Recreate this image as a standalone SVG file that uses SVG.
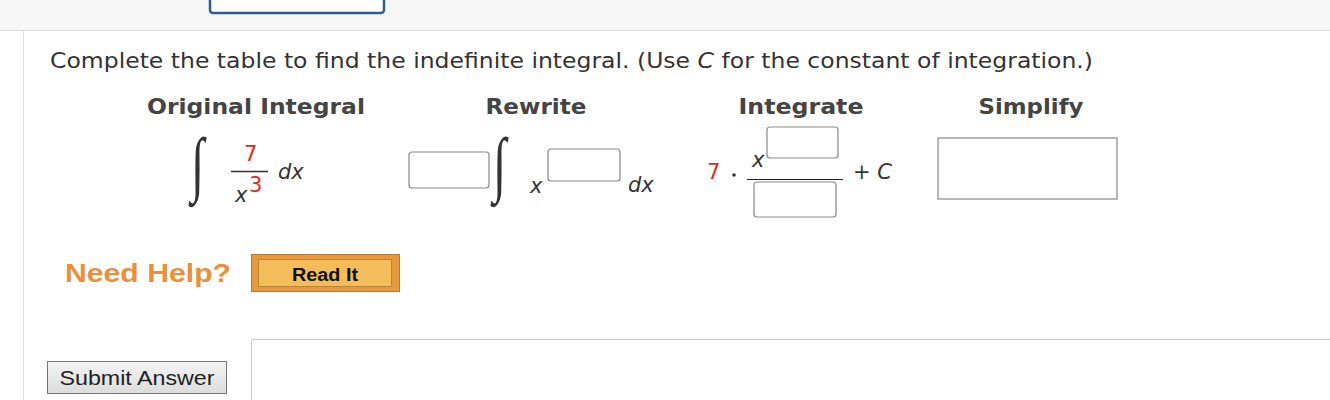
<svg xmlns="http://www.w3.org/2000/svg" width="1330" height="400" viewBox="0 0 1330 400">
<style>
.t{font-family:"DejaVu Sans",Verdana,sans-serif;fill:#333}
.h{font-family:"DejaVu Sans",Verdana,sans-serif;font-weight:bold;fill:#444;font-size:22px;text-anchor:middle}
.m{font-family:"DejaVu Sans",Verdana,sans-serif;fill:#333;font-size:21px}
.i{font-style:italic}
.r{fill:#e8261c}
.box{fill:#fff;stroke:#888;stroke-width:1.2}
.int{font-family:"Liberation Serif",serif;font-style:italic;font-size:60px;fill:#333}
</style>
<defs>
<linearGradient id="g" x1="0" y1="0" x2="0" y2="1"><stop offset="0" stop-color="#f4f4f4"/><stop offset="1" stop-color="#dcdcdc"/></linearGradient>
</defs>
<rect x="0" y="0" width="1330" height="30" fill="#f6f6f6"/>
<line x1="0" y1="30.5" x2="1330" y2="30.5" stroke="#ddd"/>
<rect x="210" y="-6" width="174" height="19" rx="3" fill="#fff" stroke="#2d5c8f" stroke-width="2.5"/>
<line x1="23.5" y1="31" x2="23.5" y2="400" stroke="#ddd"/>
<text class="t" x="50" y="68" font-size="22" textLength="1043" lengthAdjust="spacingAndGlyphs">Complete the table to find the indefinite integral. (Use <tspan class="i">C</tspan> for the constant of integration.)</text>
<text class="h" x="256" y="114" textLength="218" lengthAdjust="spacingAndGlyphs">Original Integral</text>
<text class="h" x="536" y="114" textLength="101" lengthAdjust="spacingAndGlyphs">Rewrite</text>
<text class="h" x="801" y="114" textLength="125" lengthAdjust="spacingAndGlyphs">Integrate</text>
<text class="h" x="1031" y="114" textLength="105" lengthAdjust="spacingAndGlyphs">Simplify</text>
<g id="original">
<text class="int" transform="translate(191,188) scale(0.8,1.2)">∫</text>
<text class="m r" x="244" y="161">7</text>
<line x1="231" y1="171.5" x2="268" y2="171.5" stroke="#333" stroke-width="1.5"/>
<text class="m i" x="235" y="202">x</text>
<text class="m r" x="249" y="192" font-size="19">3</text>
<text class="m i" x="278" y="179">dx</text>
</g>
<g id="rewrite">
<rect class="box" x="409" y="152" width="80" height="36" rx="3"/>
<text class="int" transform="translate(493,188) scale(0.8,1.2)">∫</text>
<text class="m i" x="530" y="193">x</text>
<rect class="box" x="548" y="149" width="72" height="32" rx="3"/>
<text class="m i" x="628" y="192">dx</text>
</g>
<g id="integrate">
<text class="m r" x="707" y="179">7</text>
<circle cx="734" cy="175" r="1.8" fill="#333"/>
<text class="m i" x="752" y="167">x</text>
<rect class="box" x="767" y="127" width="71" height="31" rx="3"/>
<line x1="747" y1="179.5" x2="843" y2="179.5" stroke="#222" stroke-width="1.2"/>
<rect class="box" x="754" y="182" width="82" height="35" rx="3"/>
<text class="m" x="853" y="179">+ <tspan class="i">C</tspan></text>
</g>
<g id="simplify">
<rect class="box" x="938" y="138" width="179" height="61"/>
</g>
<g id="help">
<text x="65" y="282" font-family="Liberation Sans,Arial,sans-serif" font-weight="bold" font-size="26" fill="#e8903a" textLength="166" lengthAdjust="spacingAndGlyphs">Need Help?</text>
<rect x="251.5" y="254.5" width="148" height="37" fill="#e8993c" stroke="#b8783a"/>
<rect x="258.5" y="259.5" width="133" height="27" fill="#f2bd5a" stroke="#b8843a"/>
<text x="325" y="281" text-anchor="middle" font-family="Liberation Sans,Arial,sans-serif" font-weight="bold" font-size="18" fill="#111" textLength="66" lengthAdjust="spacingAndGlyphs">Read It</text>
</g>
<path d="M251.5 400 V339.5 H1330" fill="none" stroke="#ccc"/>
<g id="submit">
<rect x="47.5" y="361.5" width="179" height="32" fill="url(#g)" stroke="#777"/>
<text x="137" y="385" text-anchor="middle" font-family="Liberation Sans,Arial,sans-serif" font-size="21" fill="#222" textLength="155" lengthAdjust="spacingAndGlyphs">Submit Answer</text>
</g>
</svg>
